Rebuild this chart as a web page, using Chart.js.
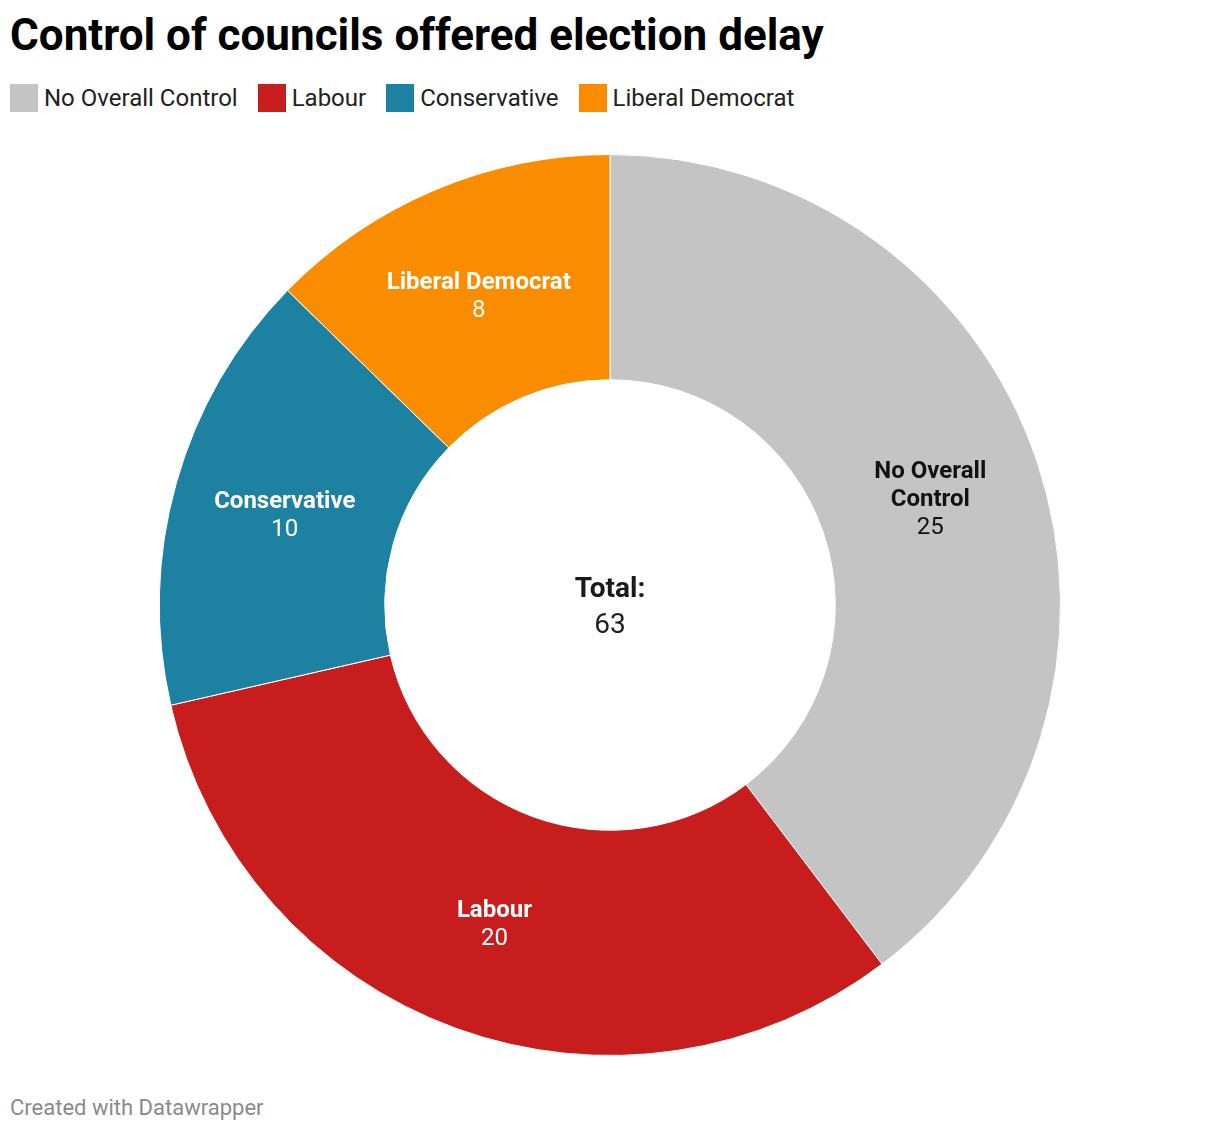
<!DOCTYPE html>
<html>
<head>
<meta charset="utf-8">
<script src="https://cdn.jsdelivr.net/npm/chart.js@4"></script>
<style>
  html, body { margin: 0; padding: 0; background: #fff; }
  body { width: 1220px; height: 1132px; position: relative; font-family: Roboto, sans-serif; overflow: hidden; }
  #title { position: absolute; left: 10px; top: 9px; font-size: 44px; line-height: 52px; font-weight: 700; color: #000; white-space: nowrap; }
  #legend { position: absolute; left: 10px; top: 84px; display: flex; align-items: center; height: 28px; }
  .item { display: flex; align-items: center; margin-right: 20px; }
  .box { width: 28px; height: 28px; margin-right: 6px; }
  .lbl { font-size: 24px; line-height: 28px; color: #222; white-space: nowrap; }
  #footer { position: absolute; left: 10px; top: 1095px; font-size: 22px; line-height: 26px; color: #8a8a8a; white-space: nowrap; }
  #wrap { position: absolute; left: 159px; top: 154px; width: 902px; height: 902px; }
</style>
</head>
<body>
<div id="title">Control of councils offered election delay</div>
<div id="legend"></div>
<div id="wrap"><canvas id="c"></canvas></div>
<div id="footer">Created with Datawrapper</div>
<script>
const categories = ["No Overall Control", "Labour", "Conservative", "Liberal Democrat"];
const values = [25, 20, 10, 8];
const sliceLabelLines = [["No Overall", "Control"], ["Labour"], ["Conservative"], ["Liberal Democrat"]];
const colors = ["#c4c4c4", "#c71e1d", "#1d81a2", "#fa8c00"];
const labelColors = ["#111111", "#ffffff", "#ffffff", "#ffffff"];
const totalLabel = "Total:";

const legend = document.getElementById('legend');
categories.forEach((c, i) => {
  const it = document.createElement('div'); it.className = 'item';
  const b = document.createElement('div'); b.className = 'box'; b.style.background = colors[i];
  const t = document.createElement('div'); t.className = 'lbl'; t.textContent = c;
  it.appendChild(b); it.appendChild(t); legend.appendChild(it);
});

const total = values.reduce((a, b) => a + b, 0);

const labelPlugin = {
  id: 'sliceLabels',
  afterDatasetsDraw(chart) {
    const ctx = chart.ctx;
    const meta = chart.getDatasetMeta(0);
    ctx.save();
    ctx.textAlign = 'center';
    ctx.textBaseline = 'middle';
    const lh = 28;
    meta.data.forEach((arc, i) => {
      const p = arc.getCenterPoint();
      const lines = sliceLabelLines[i];
      const n = lines.length + 1;
      let y = p.y + 3 - (n - 1) * lh / 2;
      ctx.fillStyle = labelColors[i];
      ctx.font = '700 24px Roboto';
      lines.forEach(l => { ctx.fillText(l, p.x, y); y += lh; });
      ctx.font = '400 24px Roboto';
      ctx.fillText(String(values[i]), p.x, y);
    });
    const a0 = meta.data[0];
    const cx = a0.x, cy = a0.y;
    ctx.fillStyle = '#1a1a1a';
    ctx.font = '700 28px Roboto';
    ctx.fillText(totalLabel, cx, cy - 15);
    ctx.font = '400 28px Roboto';
    ctx.fillStyle = '#222';
    ctx.fillText(String(total), cx, cy + 21);
    ctx.restore();
  }
};

new Chart(document.getElementById('c'), {
  type: 'doughnut',
  data: {
    labels: categories,
    datasets: [{
      data: values,
      backgroundColor: colors,
      borderColor: '#ffffff',
      borderWidth: 1,
      hoverOffset: 0
    }]
  },
  options: {
    responsive: true,
    maintainAspectRatio: false,
    animation: false,
    cutout: '50%',
    layout: { padding: 0 },
    plugins: { legend: { display: false }, tooltip: { enabled: false }, title: { display: false } }
  },
  plugins: [labelPlugin]
});
</script>
</body>
</html>
